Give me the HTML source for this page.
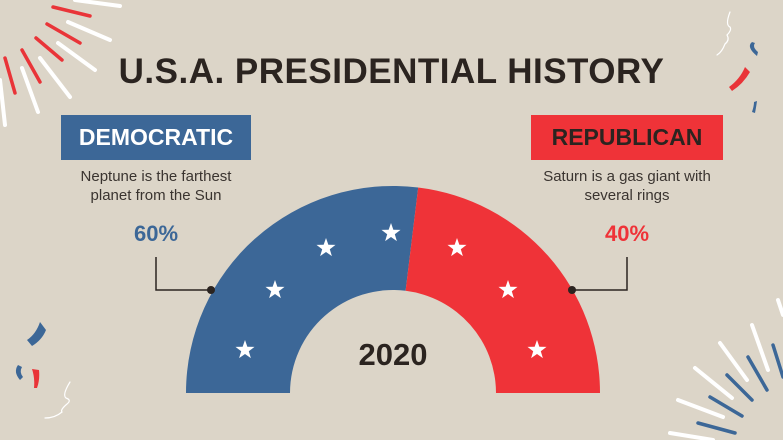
<!DOCTYPE html>
<html><head><meta charset="utf-8"><style>
html,body{margin:0;padding:0}
body{width:783px;height:440px;background:#dcd5c8;position:relative;overflow:hidden;font-family:"Liberation Sans",sans-serif}
.t{position:absolute;white-space:nowrap}
</style></head><body>
<svg width="783" height="440" style="position:absolute;left:0;top:0">
<defs>
<symbol id="star" viewBox="-10 -10 20 20"><polygon fill="#fff" points="0,-10 2.35,-3.24 9.51,-3.09 3.8,1.24 5.88,8.09 0,4 -5.88,8.09 -3.8,1.24 -9.51,-3.09 -2.35,-3.24"/></symbol>
</defs>
<g stroke-linecap="round" fill="none">
<line x1="75" y1="0" x2="120" y2="6" stroke="#fff" stroke-width="4"/>
<line x1="53" y1="7" x2="90" y2="16" stroke="#e93438" stroke-width="3.5"/>
<line x1="68" y1="22" x2="110" y2="40" stroke="#fff" stroke-width="4"/>
<line x1="47" y1="24" x2="80" y2="43" stroke="#e93438" stroke-width="3.5"/>
<line x1="58" y1="43" x2="95" y2="70" stroke="#fff" stroke-width="4"/>
<line x1="36" y1="38" x2="62" y2="60" stroke="#e93438" stroke-width="3.5"/>
<line x1="40" y1="58" x2="70" y2="97" stroke="#fff" stroke-width="4"/>
<line x1="22" y1="50" x2="40" y2="82" stroke="#e93438" stroke-width="3.5"/>
<line x1="22" y1="68" x2="38" y2="112" stroke="#fff" stroke-width="4"/>
<line x1="5" y1="58" x2="15" y2="93" stroke="#e93438" stroke-width="3.5"/>
<line x1="0" y1="80" x2="5" y2="125" stroke="#fff" stroke-width="4"/>

<line x1="752" y1="325" x2="768" y2="370" stroke="#fff" stroke-width="4"/>
<line x1="773" y1="345" x2="783" y2="377" stroke="#3c6797" stroke-width="3.5"/>
<line x1="748" y1="357" x2="767" y2="390" stroke="#3c6797" stroke-width="3.5"/>
<line x1="720" y1="343" x2="747" y2="380" stroke="#fff" stroke-width="4"/>
<line x1="727" y1="375" x2="752" y2="400" stroke="#3c6797" stroke-width="3.5"/>
<line x1="695" y1="368" x2="732" y2="398" stroke="#fff" stroke-width="4"/>
<line x1="710" y1="397" x2="742" y2="416" stroke="#3c6797" stroke-width="3.5"/>
<line x1="678" y1="400" x2="723" y2="417" stroke="#fff" stroke-width="4"/>
<line x1="698" y1="423" x2="735" y2="433" stroke="#3c6797" stroke-width="3.5"/>
<line x1="670" y1="433" x2="713" y2="440" stroke="#fff" stroke-width="4"/>
<line x1="778" y1="300" x2="783" y2="315" stroke="#fff" stroke-width="4"/>

<path d="M70 382 Q62 395 66 398 Q72 400 67 404 Q60 410 62 412 Q55 418 45 418" stroke="#fff" stroke-width="1.2"/>
<path d="M730 12 Q725 25 730 27 Q732 30 727 35 Q730 40 725 44 Q722 52 717 55" stroke="#fff" stroke-width="1.2"/>
</g>
<g fill="#3c6797"><path d="M40 322 L46 330 Q42 340 32 346 L27 340 Q36 334 40 322Z"/>
<path d="M18 365 Q13 372 20 380 L23 377 Q19 372 22 367Z"/>
<path d="M752 42 Q746 47 757 56 L758 52 Q752 47 755 43Z"/>
<path d="M754 102 L757 101 Q756 108 755 113 L752 112 Q754 106 754 102Z"/></g>
<g fill="#e93438"><path d="M32 369 L39 370 Q40 380 37 388 L34 388 Q35 378 32 369Z"/>
<path d="M745 67 L750 72 Q743 84 732 91 L729 87 Q740 79 745 67Z"/></g>

<path d="M186 393 A207 207 0 0 1 418.2 187.5 L405.6 290.8 A103 103 0 0 0 290 393 Z" fill="#3c6797"/>
<path d="M418.2 187.5 A207 207 0 0 1 600 393 L496 393 A103 103 0 0 0 405.6 290.8 Z" fill="#ef3338"/>
<use href="#star" x="235" y="340" width="20" height="20"/>
<use href="#star" x="265" y="280" width="20" height="20"/>
<use href="#star" x="316" y="238" width="20" height="20"/>
<use href="#star" x="381" y="223" width="20" height="20"/>
<use href="#star" x="447" y="238" width="20" height="20"/>
<use href="#star" x="498" y="280" width="20" height="20"/>
<use href="#star" x="527" y="340" width="20" height="20"/>
<polyline points="156,257 156,290 211,290" fill="none" stroke="#2b2420" stroke-width="1.5"/>
<polyline points="627,257 627,290 572,290" fill="none" stroke="#2b2420" stroke-width="1.5"/>
<circle cx="211" cy="290" r="4" fill="#2b2420"/>
<circle cx="572" cy="290" r="4" fill="#2b2420"/>
</svg>
<div class="t" style="left:0;width:783px;top:52px;text-align:center;font-size:35px;font-weight:bold;color:#2b2420;letter-spacing:0.5px">U.S.A. PRESIDENTIAL HISTORY</div>
<div class="t" style="left:61px;top:115px;width:190px;height:45px;background:#3c6797;color:#fff;font-size:23px;font-weight:bold;text-align:center;line-height:45px">DEMOCRATIC</div>
<div class="t" style="left:531px;top:115px;width:192px;height:45px;background:#ef3338;color:#2b2420;font-size:23px;font-weight:bold;text-align:center;line-height:45px">REPUBLICAN</div>
<div class="t" style="left:56px;width:200px;top:167px;text-align:center;font-size:15px;line-height:19px;color:#3a3430">Neptune is the farthest<br>planet from the Sun</div>
<div class="t" style="left:526px;width:202px;top:167px;text-align:center;font-size:15px;line-height:19px;color:#3a3430">Saturn is a gas giant with<br>several rings</div>
<div class="t" style="left:106px;width:100px;top:221px;text-align:center;font-size:22px;font-weight:bold;color:#3c6797">60%</div>
<div class="t" style="left:577px;width:100px;top:221px;text-align:center;font-size:22px;font-weight:bold;color:#ef3338">40%</div>
<div class="t" style="left:293px;width:200px;top:337px;text-align:center;font-size:31px;font-weight:bold;color:#2b2420">2020</div>
</body></html>
